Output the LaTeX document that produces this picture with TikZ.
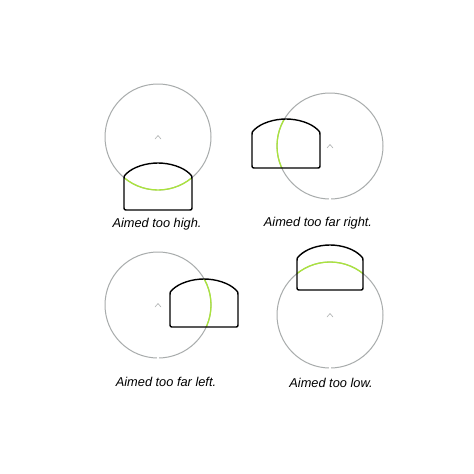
\documentclass[tikz,border=0pt]{standalone}
\usepackage{fontspec}
\setmainfont{Liberation Sans}
\definecolor{ringgray}{RGB}{168,172,172}
\definecolor{caretgray}{RGB}{175,178,178}
\definecolor{limegreen}{RGB}{170,228,60}
\newcommand\winpath[4]{%
  (#1,{#2+16}) .. controls (#1,{#2+13}) .. ({#1+2},{#2+11})
  .. controls ({#1+9},{#2+4}) and ({(#1+#3)/2-12},#2) .. ({(#1+#3)/2},#2)
  .. controls ({(#1+#3)/2+12},#2) and ({#3-9},{#2+4}) .. ({#3-2},{#2+11})
  .. controls (#3,{#2+13}) .. (#3,{#2+16})
  -- (#3,{#4-4}) .. controls (#3,#4) .. ({#3-4},#4)
  -- ({#1+4},#4) .. controls (#1,#4) .. (#1,{#4-4}) -- cycle}
\newcommand\panel[6]{%
  % #1,#2 circle centre; #3..#6 window L,T,R,B
  \draw[ring] (#1,#2) circle[radius=53];
  \draw[notch] (#1,{#2+51.5}) -- (#1,{#2+54.5});
  \draw[caret] ({#1-3},{#2+2}) -- (#1,{#2-1.5}) -- ({#1+3},{#2+2});
  \begin{scope}
    \clip \winpath{#3}{#4}{#5}{#6};
    \draw[greenarc] (#1,#2) circle[radius=53];
  \end{scope}
  \draw[window] \winpath{#3}{#4}{#5}{#6};
}
\begin{document}
\begin{tikzpicture}[x=1pt,y=-1pt,
  ring/.style={draw=ringgray,line width=1pt},
  notch/.style={draw=white,line width=1.4pt},
  caret/.style={draw=caretgray,line width=0.6pt},
  greenarc/.style={draw=limegreen,line width=1.3pt},
  window/.style={draw=black,line width=1.4pt,line join=round},
  caption/.style={font=\fontsize{12.8}{14}\selectfont\itshape,text=black,inner sep=0pt}]
\fill[white] (0,0) rectangle (474,474);
\useasboundingbox (0,0) rectangle (474,474);
\panel{158}{137}{124}{163}{192}{210}
\panel{330}{146}{252}{119}{320}{168}
\panel{158}{305}{170}{279}{238}{327}
\panel{330}{315}{297}{245}{363}{290}
\node[caption] (c1) at (157,224) {Aimed too high.};
\node[caption] (c2) at (318,223) {Aimed too far right.};
\node[caption] (c3) at (166,382) {Aimed too far left.};
\node[caption] (c4) at (331,383) {Aimed too low.};
\end{tikzpicture}
\end{document}
